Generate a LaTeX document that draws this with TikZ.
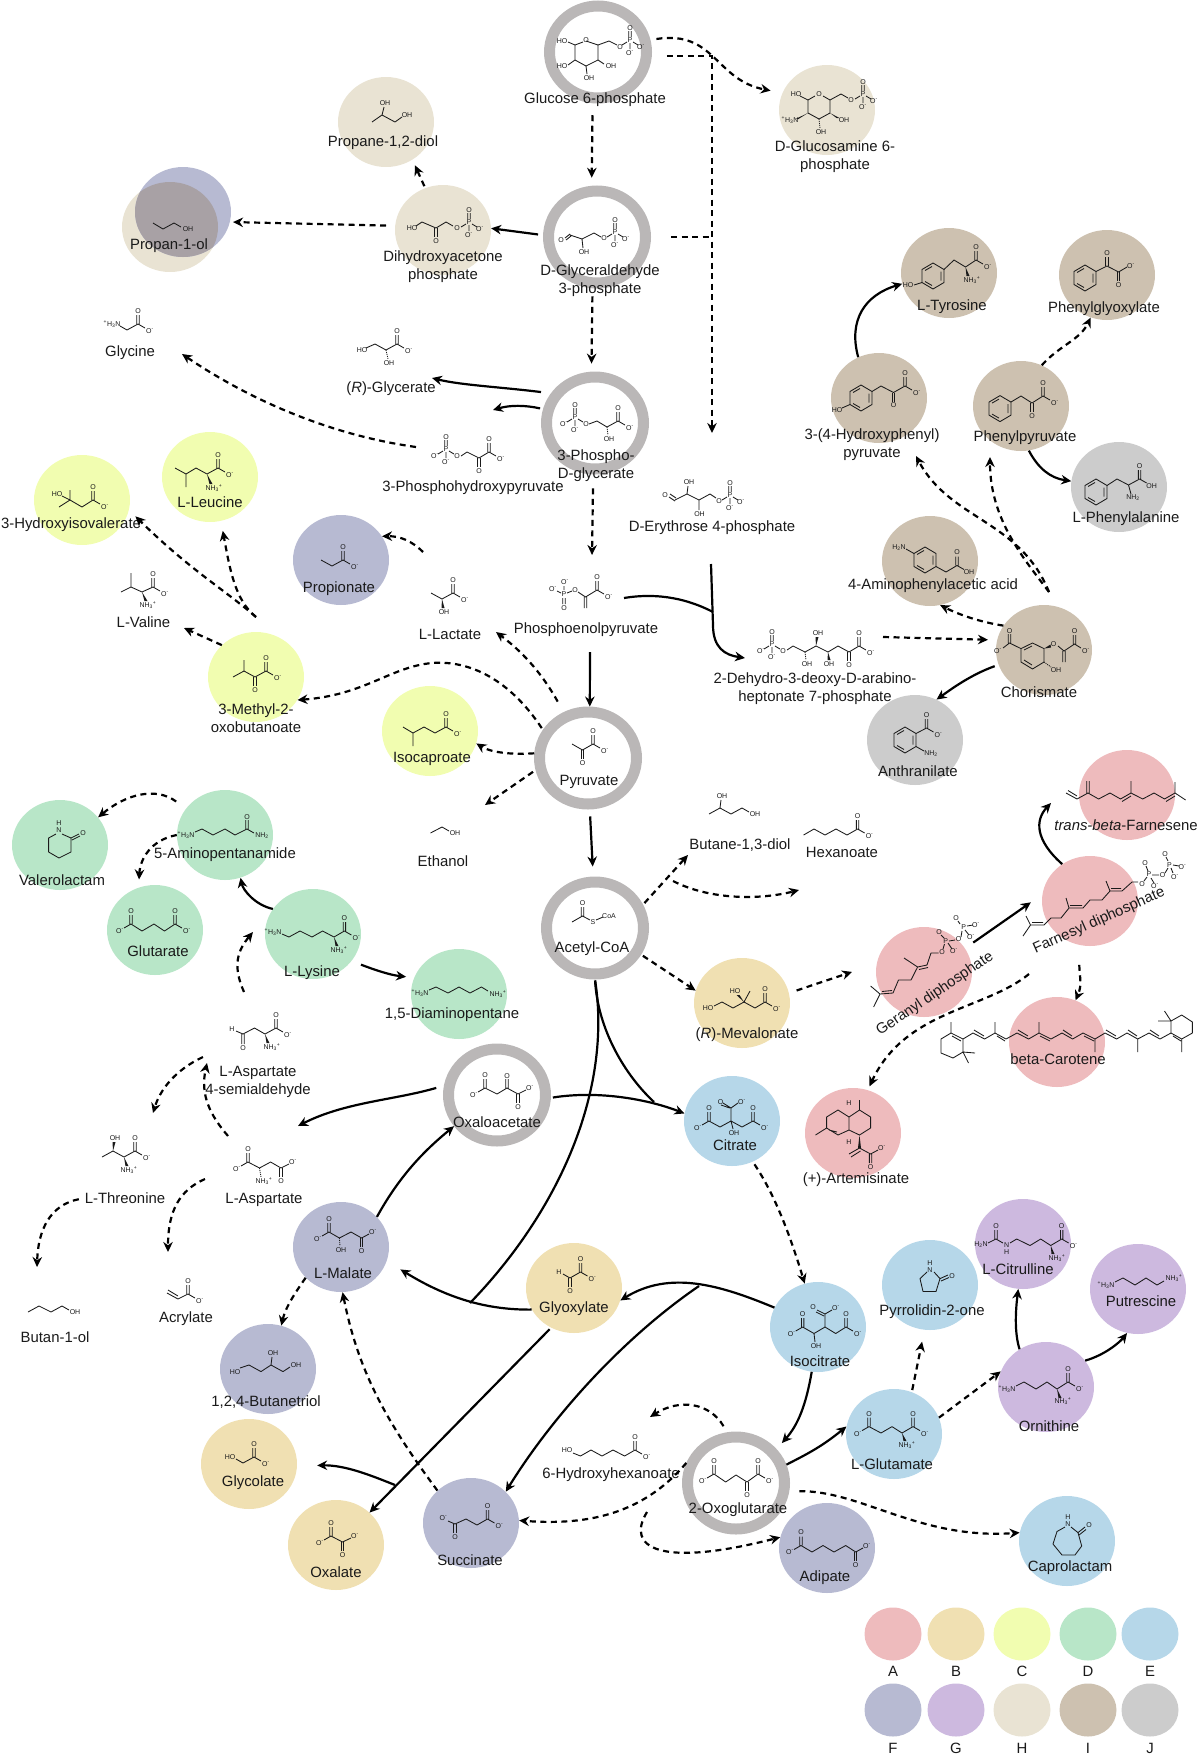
\documentclass[tikz,border=0pt]{standalone}
\usepackage{fontspec}
\setmainfont{Liberation Sans}
\usetikzlibrary{arrows.meta,calc,shapes.geometric}
\definecolor{ink}{RGB}{26,26,26}
\definecolor{ringgray}{RGB}{186,183,183}
\definecolor{groupA}{RGB}{238,187,189}
\definecolor{groupB}{RGB}{240,224,178}
\definecolor{groupC}{RGB}{241,253,176}
\definecolor{groupD}{RGB}{184,230,200}
\definecolor{groupE}{RGB}{182,215,233}
\definecolor{groupF}{RGB}{183,186,210}
\definecolor{groupG}{RGB}{205,185,223}
\definecolor{groupH}{RGB}{233,227,211}
\definecolor{groupI}{RGB}{205,193,176}
\definecolor{groupJ}{RGB}{204,204,204}
\definecolor{overlapFH}{RGB}{168,161,165}
\tikzset{
  metab/.style={ellipse,inner sep=0pt,minimum width=96pt,minimum height=90pt},
  keya/.style={ellipse,inner sep=0pt,minimum width=57pt,minimum height=53pt},
  hub/.style={ellipse,draw=ringgray,line width=11pt,inner sep=0pt,
    minimum width=97pt,minimum height=92pt},
  lbl/.style={font=\fontsize{14.9}{18}\selectfont,align=center,text=ink,inner sep=0pt,yshift=-1pt},
  atom/.style={font=\fontsize{7}{7}\selectfont,text=ink,inner sep=0pt},
  bond/.style={line width=0.85pt,ink,line join=round},
  flux/.style={line width=2.2pt,black,-{Stealth[length=10pt,width=9.5pt]}},
  fluxline/.style={line width=2.2pt,black},
  dashflux/.style={line width=2.2pt,black,dash pattern=on 6pt off 4.5pt,
    -{Stealth[length=10pt,width=9.5pt]}},
  dashline/.style={line width=2.2pt,black,dash pattern=on 6pt off 4.5pt}
}
\newcounter{atomno}
\newcommand{\atm}[3]{\stepcounter{atomno}\node[atom] (atom\theatomno) at (#1,#2) {#3};}
\newcommand{\omin}{O\textsuperscript{-}}
\newcommand{\nhp}{NH\textsubscript{3}\textsuperscript{+}}
\newcommand{\hnp}{\textsuperscript{+}H\textsubscript{3}N}
% carboxylate on a carbon, opening right or left
\newcommand{\coo}[3][\omin]{\draw[bond] (#2-1.2,#3)--(#2-1.2,#3-9) (#2+1.2,#3)--(#2+1.2,#3-9) (#2,#3)--(#2+7,#3+4);
  \atm{#2}{#3-13}{O}\atm{#2+12}{#3+7}{#1}}
\newcommand{\cool}[2]{\draw[bond] (#1-1.2,#2)--(#1-1.2,#2-9) (#1+1.2,#2)--(#1+1.2,#2-9) (#1,#2)--(#1-7,#2+4);
  \atm{#1}{#2-13}{O}\atm{#1-11}{#2+7}{\omin}}
\newcommand{\keto}[2]{\draw[bond] (#1-1.2,#2)--(#1-1.2,#2+9) (#1+1.2,#2)--(#1+1.2,#2+9);\atm{#1}{#2+13}{O}}
\newcommand{\pho}[4]{\draw[bond] (#1-1.2,#2-3)--(#1-1.2,#2-9) (#1+1.2,#2-3)--(#1+1.2,#2-9) (#1,#2+3)--(#1,#2+9)
  (#1-3,#2+2)--(#1-8,#2+5) (#1+3,#2+2)--(#1+8,#2+5);
  \atm{#1}{#2}{P}\atm{#1}{#2-12}{O}\atm{#1}{#2+13}{\omin}\atm{#1-11}{#2+7}{#3}\atm{#1+11}{#2+7}{#4}}
\newcommand{\benz}[2]{\draw[bond] (#1,#2-13)--(#1+11,#2-6.5)--(#1+11,#2+6.5)--(#1,#2+13)--(#1-11,#2+6.5)--(#1-11,#2-6.5)--cycle
  (#1+8,#2-4.5)--(#1+8,#2+4.5) (#1-1,#2+9.5)--(#1-8,#2+5.5) (#1-8,#2-5.5)--(#1-1,#2-9.5);}
\newcommand{\wdg}[4]{\fill[ink] (#1,#2)--(#3-1.5,#4)--(#3+1.5,#4)--cycle;}
\begin{document}
\begin{tikzpicture}[x=1pt,y=-1pt]
  \useasboundingbox (0,0) rectangle (1200,1757);
  % coloured groups
  \node[metab,fill=groupH] (prop12) at (386,122) {};
  \node[metab,fill=groupH] (glcn) at (827,110) {};
  \node[metab,fill=groupH] (dhap) at (443,230) {};
  \node[metab,fill=groupH] (ppolh) at (170,227) {};
  \node[metab,fill=groupF] (ppolf) at (183,212) {};
  \begin{scope}
    \clip (170,227) ellipse [x radius=48,y radius=45];
    \fill[overlapFH] (183,212) ellipse [x radius=48,y radius=45];
  \end{scope}
  \node[metab,fill=groupI] (tyr) at (949,273) {};
  \node[metab,fill=groupI] (pglx) at (1107,275) {};
  \node[metab,fill=groupI] (hpp) at (879,398) {};
  \node[metab,fill=groupI] (ppy) at (1021,406) {};
  \node[metab,fill=groupI] (apa) at (930,561) {};
  \node[metab,fill=groupI] (chor) at (1044,650) {};
  \node[metab,fill=groupJ] (phe) at (1119,487) {};
  \node[metab,fill=groupJ] (anth) at (915,740) {};
  \node[metab,fill=groupA] (farn) at (1127,795) {};
  \node[metab,fill=groupA] (fpp) at (1090,901) {};
  \node[metab,fill=groupA] (gpp) at (924,972) {};
  \node[metab,fill=groupA] (bcar) at (1057,1042) {};
  \node[metab,fill=groupA] (arte) at (853,1133) {};
  \node[metab,fill=groupB] (mev) at (742,1003) {};
  \node[metab,fill=groupB] (glx) at (574,1288) {};
  \node[metab,fill=groupB] (glyc) at (249,1464) {};
  \node[metab,fill=groupB] (oxal) at (336,1545) {};
  \node[metab,fill=groupC] (leu) at (210,477) {};
  \node[metab,fill=groupC] (hiv) at (82,500) {};
  \node[metab,fill=groupC] (mob) at (256,677) {};
  \node[metab,fill=groupC] (icap) at (430,731) {};
  \node[metab,fill=groupD] (vlac) at (60,845) {};
  \node[metab,fill=groupD] (apam) at (225,835) {};
  \node[metab,fill=groupD] (glut) at (155,930) {};
  \node[metab,fill=groupD] (lys) at (313,934) {};
  \node[metab,fill=groupD] (dap) at (459,994) {};
  \node[metab,fill=groupE] (cit) at (732,1121) {};
  \node[metab,fill=groupE] (icit) at (818,1327) {};
  \node[metab,fill=groupE] (pyrr) at (930,1285) {};
  \node[metab,fill=groupE] (glu) at (894,1434) {};
  \node[metab,fill=groupE] (capr) at (1067,1541) {};
  \node[metab,fill=groupF] (ppa) at (341,560) {};
  \node[metab,fill=groupF] (mal) at (341,1247) {};
  \node[metab,fill=groupF] (btol) at (268,1369) {};
  \node[metab,fill=groupF] (suc) at (471,1523) {};
  \node[metab,fill=groupF] (adip) at (827,1548) {};
  \node[metab,fill=groupG] (citr) at (1023,1244) {};
  \node[metab,fill=groupG] (putr) at (1138,1289) {};
  \node[metab,fill=groupG] (orn) at (1046,1387) {};
  % central hubs
  \node[hub] (g6p) at (598,52) {};
  \node[hub] (g3p) at (597,237) {};
  \node[hub] (pg3) at (595,423) {};
  \node[hub] (pyrv) at (588,758) {};
  \node[hub] (acoa) at (595,928) {};
  \node[hub] (oaa) at (497,1095) {};
  \node[hub] (ogl) at (736,1483) {};
  % legend
  \node[keya,fill=groupA] (keyA) at (893,1634) {};
  \node[keya,fill=groupB] (keyB) at (956,1634) {};
  \node[keya,fill=groupC] (keyC) at (1022,1634) {};
  \node[keya,fill=groupD] (keyD) at (1088,1634) {};
  \node[keya,fill=groupE] (keyE) at (1150,1634) {};
  \node[keya,fill=groupF] (keyF) at (893,1710) {};
  \node[keya,fill=groupG] (keyG) at (956,1710) {};
  \node[keya,fill=groupH] (keyH) at (1022,1710) {};
  \node[keya,fill=groupI] (keyI) at (1088,1710) {};
  \node[keya,fill=groupJ] (keyJ) at (1150,1710) {};
  \node[lbl] (txtA) at (893,1670) {A};
  \node[lbl] (txtB) at (956,1670) {B};
  \node[lbl] (txtC) at (1022,1670) {C};
  \node[lbl] (txtD) at (1088,1670) {D};
  \node[lbl] (txtE) at (1150,1670) {E};
  \node[lbl] (txtF) at (893,1747) {F};
  \node[lbl] (txtG) at (956,1747) {G};
  \node[lbl] (txtH) at (1022,1747) {H};
  \node[lbl] (txtI) at (1088,1747) {I};
  \node[lbl] (txtJ) at (1150,1747) {J};
  % structures, upper part
  \draw[bond] (586,41)--(598,45)--(598,60)--(586,66)--(575,60)--(575,45)--(583,42) (589,42)--(598,45)--(609,41)--(617,45)
    (575,45)--(568,42) (575,60)--(568,65) (598,60)--(604,64) (586,66)--(587,74);
  \atm{586}{40}{O}\atm{620}{47}{O}\pho{630}{40}{}{\omin}\atm{562}{41}{HO}\atm{562}{66}{HO}\atm{611}{66}{OH}\atm{589}{78}{OH}
  \draw[bond] (565,238)--(570,234) (566,240)--(571,236) (570,235)--(582,239)--(594,233)--(601,237) (582,239)--(583,248);
  \atm{561}{240}{O}\atm{604}{238}{O}\pho{615}{232}{}{\omin}\atm{584}{252}{OH}
  \draw[bond] (416,226)--(422,222)--(436,228)--(446,222)--(453,226);\keto{436}{228}
  \atm{412}{228}{HO}\atm{457}{228}{O}\pho{469}{222}{}{\omin}
  \draw[bond] (372,122)--(382,115)--(395,122)--(402,117) (382,115)--(384,107);\atm{385}{103}{OH}\atm{407}{115}{OH}
  \draw[bond] (808,100)--(815,96) (823,96)--(830,100)--(830,113)--(819,119)--(808,113)--(808,100)--(800,96)
    (830,100)--(841,94)--(848,98);
  \wdg{808}{113}{797}{119}\wdg{830}{113}{838}{118}
  \draw[bond,dash pattern=on 1pt off 1pt] (819,119)--(820,128);
  \atm{819}{94}{O}\atm{796}{94}{HO}\atm{790}{120}{\hnp}\atm{844}{120}{OH}\atm{821}{132}{OH}\atm{851}{100}{O}\pho{863}{94}{}{\omin}
  \draw[bond] (366,348)--(375,344)--(386,350)--(397,344);\coo{397}{344}\atm{362}{350}{HO}\atm{389}{363}{OH}
  \draw[bond,dash pattern=on 1pt off 1pt] (386,350)--(388,359);
  \pho{575}{417}{\omin}{O}\draw[bond] (589,424)--(597,421)--(607,427)--(618,421);\coo{618}{421}\atm{609}{439}{OH}
  \draw[bond,dash pattern=on 1pt off 1pt] (607,427)--(608,435);
  \pho{446}{449}{\omin}{O}\draw[bond] (461,456)--(467,452)--(479,458)--(489,452);\keto{479}{458}\coo{489}{452}
  \draw[bond] (120,326)--(127,330)--(138,324);\coo{138}{324}\atm{112}{324}{\hnp}
  \draw[bond] (175,468)--(186,474)--(196,468)--(207,474)--(218,468) (186,474)--(186,487);\coo{218}{468}\wdg{207}{474}{211}{484}\atm{214}{488}{\nhp}
  \draw[bond] (62,496)--(70,500)--(59,507) (70,500)--(70,490) (70,500)--(82,507)--(93,500);\coo{93}{500}\atm{57}{494}{HO}
  \draw[bond] (121,592)--(131,587)--(142,592)--(153,587) (131,587)--(131,573);\coo{153}{587}\wdg{142}{592}{146}{601}\atm{148}{605}{\nhp}
  \draw[bond] (321,560)--(332,566)--(343,560);\coo{343}{560}
  \draw[bond] (431,593)--(442,599)--(453,593);\coo{453}{593}\wdg{442}{599}{443}{608}\atm{444}{612}{OH}
  \draw[bond] (233,677)--(244,671)--(255,677)--(266,671) (244,671)--(244,660);\keto{255}{677}\coo{266}{671}
  \draw[bond] (403,727)--(413,733)--(424,727)--(435,733)--(446,727) (413,733)--(413,746);\coo{446}{727}
  \draw[bond] (153,223)--(163,229)--(174,223)--(181,227);\atm{188}{229}{OH}
  \draw[bond] (564,590)--(564,586) (562.8,598)--(562.8,604) (565.2,598)--(565.2,604) (561,593)--(557,591) (567,593)--(572,591)
    (578,592)--(585.5,597)--(597,590) (584.3,597)--(584.3,608) (586.7,597)--(586.7,608);
  \coo{597}{590}\atm{564}{594}{P}\atm{565}{582}{\omin}\atm{553}{589}{\omin}\atm{564}{608}{O}\atm{575}{590}{O}
  \draw[bond] (572,744)--(582.5,750)--(593,744);\keto{582.5}{750}\coo{593}{744}
  % structures, right part
  \draw[bond] (669,497)--(675,501) (670,494)--(676,498) (675,500)--(687,494)--(699,500)--(710,494)--(716,498)
    (687,494)--(688,486) (699,500)--(699,510);
  \atm{665}{495}{O}\atm{689}{482}{OH}\atm{699.5}{514}{OH}\atm{719}{501}{O}\pho{730}{495}{}{\omin}
  \pho{772}{644}{\omin}{O}\draw[bond] (787,650)--(793,646)--(805,652)--(816,646)--(828,652)--(838,646)--(849,652)--(859,646);
  \keto{849}{652}\coo{859}{646}\atm{807}{664}{OH}\atm{829}{664}{OH}\atm{818}{633}{OH}
  \wdg{816}{646}{817}{637}\wdg{828}{652}{829}{660}
  \draw[bond,dash pattern=on 1pt off 1pt] (805,652)--(806,660);
  \benz{861}{398}\draw[bond] (872,391.5)--(881,386)--(893.5,392.5)--(905,386) (850,404.5)--(842,408);\keto{893.5}{392.5}\coo{905}{386}\atm{837}{410}{HO}
  \benz{933}{276}\draw[bond] (944,269.5)--(954,260)--(965.5,267)--(976,260) (922,282.5)--(914,285);\coo{976}{260}\atm{908}{285}{HO}
  \wdg{965.5}{267}{968}{276}\atm{972}{280}{\nhp}
  \benz{1085}{278}\draw[bond] (1096,271.5)--(1107,266)--(1118.6,272)--(1127,267);\atm{1107}{253}{O}\atm{1131}{266}{\omin}\keto{1118.6}{272}
  \draw[bond] (1105.8,266)--(1105.8,257) (1108.2,266)--(1108.2,257);
  \benz{1000}{408.6}\draw[bond] (1011,402)--(1021,396)--(1032,403)--(1043,396);\keto{1032}{403}\coo{1043}{396}
  \benz{1096}{492}\draw[bond] (1107,485.5)--(1117,479)--(1128.5,485)--(1139.6,479) (1128.5,485)--(1131,494);\coo[OH]{1139.6}{479}\atm{1133}{498}{NH\textsubscript{2}}
  \benz{925}{560}\draw[bond] (936,566.5)--(946,572)--(957,565.5) (914,553.5)--(906,549);\coo[OH]{957}{565.5}\atm{899}{548}{H\textsubscript{2}N}
  \draw[bond] (1021,648.6)--(1032.5,643)--(1044,648.6)--(1044,662)--(1032.5,669)--(1021,662)--cycle (1024,660)--(1032,665) (1024,650)--(1032,646)
    (1021,648.6)--(1009.5,643)--(1003,648) (1058,646)--(1064,651)--(1074.5,644)--(1081,648)
    (1062.8,651)--(1062.8,662) (1065.2,651)--(1065.2,662) (1008.3,643)--(1008.3,634) (1010.7,643)--(1010.7,634)
    (1073.3,644)--(1073.3,635) (1075.7,644)--(1075.7,635);
  \fill[ink] (1044,648.6)--(1050.5,644.5)--(1051,647.5)--cycle;
  \draw[bond,dash pattern=on 1pt off 1pt] (1044,662)--(1051,667);
  \atm{1009.5}{631}{O}\atm{998}{651}{\omin}\atm{1053.5}{644}{O}\atm{1074.5}{631}{O}\atm{1086}{651}{\omin}\atm{1056}{670}{OH}
  \benz{905}{740}\draw[bond] (916,733.5)--(926.5,728) (916,746.5)--(924,751);\coo{926.5}{728}\atm{931}{754}{NH\textsubscript{2}}
  \draw[bond] (709,814)--(720,808)--(731,814)--(742,808)--(749,812) (720,808)--(721,800);\atm{722}{796}{OH}\atm{755}{814}{OH}
  \draw[bond] (803.6,835)--(814,829)--(825,835)--(836,829)--(847,835)--(857.6,829);\coo{857.6}{829}
  % isoprenoids
  \draw[bond] (1066,793)--(1077,799)--(1088,793)--(1098.6,799)--(1110,793)--(1120.5,799)--(1131,793)--(1142.7,799)--(1154,793)--(1164.5,799)--(1175,793)--(1185.6,800)
    (1068,790.5)--(1077,796) (1086.8,793)--(1086.8,781) (1089.2,793)--(1089.2,781) (1131,793)--(1131,781) (1175,793)--(1175,782)
    (1122,801.5)--(1131,796) (1166,801.5)--(1175,796);
  \draw[bond] (870.6,986)--(880,994)--(873.6,1007) (880,994)--(893,993)--(898.5,980)--(911,980)--(917.6,967)--(904,958) (917.6,967)--(927,965)--(931,953)--(938.7,953)
    (882,991.5)--(892,990.5) (919,969.5)--(928,967.5);
  \atm{942}{952}{O}\atm{945.6}{941}{P}\atm{939}{932}{O}\atm{954}{951}{\omin}\atm{958.6}{939}{O}\atm{963.6}{927}{P}\atm{956}{918}{O}\atm{976}{925}{\omin}\atm{971}{937}{\omin}
  \draw[bond] (943,949)--(944.5,944) (944,938)--(941,935) (948,943)--(952,949) (949,941)--(955,940) (961,937)--(962,931) (960,924)--(958,921) (967,926)--(973,925) (965,930)--(969,935);
  \draw[bond] (1023,936)--(1030.5,925)--(1026,916) (1030.5,925)--(1044,925)--(1051,918)--(1061,918)--(1069,908)--(1066,898) (1069,908)--(1083,908)--(1090,900)--(1102,900)--(1110,891)--(1106,881)
    (1110,891)--(1122,891)--(1132,882)--(1138,882) (1032,922.5)--(1043,922.5) (1070,905.5)--(1082,905.5) (1111,888.5)--(1121,888.5);
  \atm{1142}{884}{O}\atm{1149}{874}{P}\atm{1145}{863}{O}\atm{1155}{886}{\omin}\atm{1162.6}{875}{O}\atm{1169.5}{865}{P}\atm{1165}{854}{O}\atm{1182.5}{867}{\omin}\atm{1175}{877}{\omin}
  \draw[bond] (1144,881)--(1147,877) (1148,871)--(1146,866) (1151,878)--(1154,883) (1152,875)--(1159,875) (1165,873)--(1168,868) (1168,861)--(1166,857) (1173,865)--(1179,866) (1171,868)--(1173,873);
  \draw[bond] (951,1033)--(963,1039)--(963,1052)--(953,1058)--(941,1053)--(941,1039)--cycle (951,1033)--(951,1022) (963,1052)--(975,1053) (963,1052)--(968.5,1063)
    (963,1039)--(973,1033)--(984.6,1039)--(995,1033)--(1006,1039)--(1017,1033)--(1028.6,1039)--(1039,1033)--(1051,1039)--(1062,1033)--(1072.6,1039)--(1083,1033)--(1095,1039)--(1105,1033)--(1116.6,1039)--(1127,1033)--(1137.7,1039)--(1149,1033)--(1160,1039)--(1171,1033)
    (995,1033)--(995,1022) (1039,1033)--(1039,1022) (1095,1039)--(1095,1052) (1137.7,1039)--(1137.7,1052)
    (1171,1033)--(1181.7,1039)--(1192.4,1033)--(1192.4,1022)--(1181.7,1015)--(1171,1021)--cycle (1181.7,1039)--(1181.7,1052) (1171,1021)--(1158,1021) (1171,1021)--(1164.5,1011)
    (974,1030)--(984,1036) (997,1036)--(1005,1041) (1018,1030)--(1028,1036) (1040,1036)--(1050,1041) (1063,1030)--(1072,1036) (1084,1036)--(1094,1041) (1106,1030)--(1116,1036) (1128,1030)--(1137,1036) (1150,1030)--(1159,1036) (952,1036)--(961,1041) (1173,1036)--(1181,1041);
  \draw[bond] (826.6,1117)--(838,1110)--(849,1117)--(849,1130)--(838,1135)--(826.6,1128)--cycle (826.6,1128)--(815.5,1135) (829,1130)--(837,1132)
    (849,1117)--(859.5,1110)--(870.6,1117)--(870.6,1128)--(859.5,1135)--(849,1130) (859.5,1110)--(859.5,1100)
    (859.5,1148)--(870.6,1154)--(878,1150) (859.5,1148)--(849,1154) (860.5,1151)--(851,1157) (869.4,1154)--(869.4,1163) (871.8,1154)--(871.8,1163);
  \wdg{859.5}{1135}{859.5}{1148}\atm{849}{1103}{H}\atm{849}{1142}{H}\atm{882}{1148}{\omin}\atm{870.6}{1167}{O}
  \draw[bond] (714,1006)--(722,1002)--(733,1008)--(744,1002)--(755,1008)--(765,1002) (744,1002)--(750,991);\coo{765}{1002}\wdg{744}{1002}{738}{995}\atm{735}{991}{HO}\atm{708}{1008}{HO}
  \draw[bond] (731,1121)--(731,1108)--(723,1103) (729.8,1108)--(721,1105) (731,1108)--(738,1103) (731,1121)--(720,1127)--(709,1121) (731,1121)--(742,1127)--(753,1121) (731,1121)--(733,1129);
  \cool{709}{1121}\coo{753}{1121}\atm{720.5}{1102}{O}\atm{742}{1102}{\omin}\atm{734}{1133}{OH}
  % structures, lower part
  \draw[bond] (572,922)--(582.5,916)--(590,920) (581.3,916)--(581.3,907) (583.7,916)--(583.7,907) (596,920)--(603,917);\atm{582.5}{903}{O}\atm{593}{922}{S}\atm{609}{916}{CoA}
  \draw[bond] (195,832)--(202,829)--(213,835)--(225,829)--(235,835)--(247,829)--(254,833) (245.8,829)--(245.8,820) (248.2,829)--(248.2,820);\atm{186}{835}{\hnp}\atm{247}{817}{O}\atm{262}{836}{NH\textsubscript{2}}
  \draw[bond] (62,834)--(71,838)--(71,852)--(59,858)--(48.6,852)--(48.6,838)--(56,834) (71,838)--(79,834) (72,840)--(80,836);\atm{59}{830}{N}\atm{59}{823}{H}\atm{83}{833}{O}
  \draw[bond] (131,924)--(142,931)--(154,924)--(164.5,931)--(175,924);\cool{131}{924}\coo{175}{924}
  \draw[bond] (282,934)--(289,937)--(300,931)--(312,937)--(322.6,931)--(334,937)--(344.4,931);\coo{344.4}{931}\atm{273}{932}{\hnp}\wdg{334}{937}{337}{946}\atm{339}{950}{\nhp}
  \draw[bond] (429,990)--(436,987)--(448,993)--(459,987)--(470,993)--(481.4,987)--(488,991);\atm{420}{993}{\hnp}\atm{498}{994}{\nhp}
  \draw[bond] (430.5,833)--(442,827)--(449,831);\atm{455}{833}{OH}
  \draw[bond] (236,1031)--(243,1034)--(254.5,1028)--(265,1034)--(276,1028) (241.8,1034)--(241.8,1044) (244.2,1034)--(244.2,1044);\coo{276}{1028}\atm{232}{1029}{H}\atm{243}{1048}{O}\wdg{265}{1034}{268}{1043}\atm{272}{1047}{\nhp}
  \draw[bond] (485,1088)--(497,1094)--(507,1088)--(518,1094) (505.8,1088)--(505.8,1079) (508.2,1088)--(508.2,1079);\cool{485}{1088}\atm{507}{1076}{O}
  \keto{518}{1094}\draw[bond] (518,1094)--(526,1090);\atm{530}{1088}{\omin}
  \draw[bond] (102,1157)--(113,1151)--(124,1157)--(135,1151);\coo{135}{1151}\wdg{113}{1151}{114}{1142}\atm{115}{1138}{OH}\wdg{124}{1157}{127}{1166}\atm{129}{1170}{\nhp}
  \draw[bond] (248,1162)--(259.5,1168)--(270.6,1162)--(281,1168)--(289,1164);\cool{248}{1162}\keto{281}{1168}\atm{293}{1162}{\omin}\atm{264}{1181}{\nhp}
  \draw[bond,dash pattern=on 1pt off 1pt] (259.5,1168)--(261,1177);
  \draw[bond] (329,1232)--(339.4,1238)--(351,1232)--(361.6,1238)--(369,1234);\cool{329}{1232}\keto{361.6}{1238}\atm{373}{1232}{\omin}\atm{341}{1250}{OH}
  \draw[bond,dash pattern=on 1pt off 1pt] (339.4,1238)--(340,1246);
  \draw[bond] (167,1293)--(178,1299)--(188,1294) (168,1290)--(178,1296);\coo{188}{1294}
  \draw[bond] (28,1312)--(39,1306)--(51,1312)--(62,1306)--(69,1310);\atm{75}{1312}{OH}
  \draw[bond] (240,1368)--(249,1365)--(261,1371.6)--(271,1365)--(283,1371.6)--(290,1367) (271,1365)--(272,1357);\atm{235}{1371.6}{HO}\atm{273}{1353}{OH}\atm{296}{1365}{OH}
  \draw[bond] (236,1459)--(243,1463)--(254,1457);\coo{254}{1457}\atm{230}{1457}{HO}
  \draw[bond] (331,1536)--(342.5,1542)--(351,1538);\cool{331}{1536}\keto{342.5}{1542}\atm{355}{1536}{\omin}
  \draw[bond] (563,1274)--(570,1278)--(580.5,1272);\keto{570}{1278}\coo{580.5}{1272}\atm{559}{1272}{H}
  \draw[bond] (448,1521)--(455,1524)--(466,1519)--(477,1525)--(487.5,1519);\keto{455}{1524}\coo{487.5}{1519}\atm{443.5}{1518}{\omin}
  \draw[bond] (573,1453)--(580.5,1456)--(591,1450)--(602,1456)--(613,1450)--(624.6,1456)--(635,1450);\coo{635}{1450}\atm{567}{1450}{HO}
  \draw[bond] (714,1474)--(725.7,1482)--(736,1475)--(747,1482)--(758,1474);\cool{714}{1474}\keto{747}{1482}\coo{758}{1474}
  \draw[bond] (801,1545.5)--(812,1552)--(823,1545.5)--(834,1552)--(845.7,1545.5)--(855.7,1552)--(863,1548);\cool{801}{1545.5}\keto{855.7}{1552}\atm{867}{1546}{\omin}
  \draw[bond] (1071,1527)--(1078,1532.6)--(1081.7,1546)--(1075,1555)--(1062,1555)--(1053,1544)--(1057,1531.5)--(1065,1527) (1078,1532.6)--(1085,1527) (1079,1535)--(1086,1529.5);\atm{1068}{1524}{N}\atm{1068}{1517}{H}\atm{1089}{1525}{O}
  \draw[bond] (802.7,1327)--(814,1333.5)--(825,1327)--(835.7,1333.5)--(846,1327) (814,1333.5)--(815,1342) (825,1327)--(825,1314)--(817,1310) (824,1316)--(816,1312) (825,1314)--(832,1310);
  \cool{802.7}{1327}\coo{846}{1327}\atm{813}{1307}{O}\atm{836}{1308}{\omin}\atm{816}{1346}{OH}
  \draw[bond] (934,1272)--(940,1278.6)--(936,1291.5)--(923,1291.5)--(920,1278.6)--(927,1272) (940,1278.6)--(948,1275) (941,1281)--(949,1277.5);\atm{930}{1270}{N}\atm{930}{1263}{H}\atm{952}{1276}{O}
  \draw[bond] (988,1243)--(996,1239)--(1003,1243) (994.8,1239)--(994.8,1230) (997.2,1239)--(997.2,1230) (1010,1243)--(1016.7,1239)--(1030,1245.5)--(1040.7,1239)--(1050.7,1245.5)--(1061.7,1239);
  \coo{1061.7}{1239}\atm{981}{1245}{H\textsubscript{2}N}\atm{996}{1226}{O}\atm{1006.7}{1245.5}{N}\atm{1006.7}{1252}{H}\wdg{1050.7}{1245.5}{1053}{1254}\atm{1057}{1258}{\nhp}
  \draw[bond] (1115,1282)--(1123,1278)--(1135,1285)--(1146,1278)--(1157,1285)--(1164,1281);\atm{1106}{1285}{\hnp}\atm{1174}{1278}{\nhp}
  \draw[bond] (1016,1386)--(1024,1382)--(1036,1389)--(1047,1382)--(1057,1389)--(1068,1382);\coo{1068}{1382}\atm{1007}{1389}{\hnp}\wdg{1057}{1389}{1060}{1398}\atm{1063}{1401.5}{\nhp}
  \draw[bond] (869,1426.6)--(881,1433)--(892,1426.6)--(902,1433)--(913,1426.6);\cool{869}{1426.6}\coo{913}{1426.6}\wdg{902}{1433}{905}{1441}\atm{907}{1445}{\nhp}
  % compound names
  \node[lbl] (g6plbl) at (595,99) {Glucose 6-phosphate};
  \node[lbl] (prop12lbl) at (383,142) {Propane-1,2-diol};
  \node[lbl] (glcnlbl) at (835,156) {D-Glucosamine 6-\\phosphate};
  \node[lbl] (dhaplbl) at (443,266) {Dihydroxyacetone\\phosphate};
  \node[lbl] (g3plbl) at (600,280) {D-Glyceraldehyde\\3-phosphate};
  \node[lbl] (ppollbl) at (169,245) {Propan-1-ol};
  \node[lbl] (rglylbl) at (391,388) {(\textit{R})-Glycerate};
  \node[lbl] (phplbl) at (473,487) {3-Phosphohydroxypyruvate};
  \node[lbl] (pg3lbl) at (596,465) {3-Phospho-\\D-glycerate};
  \node[lbl] (glylbl) at (130,352) {Glycine};
  \node[lbl] (leulbl) at (210,501) {L-Leucine};
  \node[lbl] (hivlbl) at (71,524) {3-Hydroxyisovalerate};
  \node[lbl] (ppalbl) at (339,588) {Propionate};
  \node[lbl] (vallbl) at (143.5,621) {L-Valine};
  \node[lbl] (laclbl) at (450,633) {L-Lactate};
  \node[lbl] (moblbl) at (256,717) {3-Methyl-2-\\oxobutanoate};
  \node[lbl] (icaplbl) at (432,758) {Isocaproate};
  \node[lbl] (e4plbl) at (712,527) {D-Erythrose 4-phosphate};
  \node[lbl] (peplbl) at (586,629) {Phosphoenolpyruvate};
  \node[lbl] (pyrvlbl) at (589,781) {Pyruvate};
  \node[lbl] (tyrlbl) at (952,306) {L-Tyrosine};
  \node[lbl] (pglxlbl) at (1104,308) {Phenylglyoxylate};
  \node[lbl] (hpplbl) at (872,444) {3-(4-Hydroxyphenyl)\\pyruvate};
  \node[lbl] (ppylbl) at (1025,437) {Phenylpyruvate};
  \node[lbl] (phelbl) at (1126,518) {L-Phenylalanine};
  \node[lbl] (apalbl) at (933,585) {4-Aminophenylacetic acid};
  \node[lbl] (chorlbl) at (1039,691) {Chorismate};
  \node[lbl] (dahplbl) at (815,688) {2-Dehydro-3-deoxy-D-arabino-\\heptonate 7-phosphate};
  \node[lbl] (anthlbl) at (918,770) {Anthranilate};
  \node[lbl] (btdlbl) at (740,844) {Butane-1,3-diol};
  \node[lbl] (hexlbl) at (842,851) {Hexanoate};
  \node[lbl] (farnlbl) at (1126,824) {\textit{trans-beta}-Farnesene};
  \node[lbl,rotate=24] (fpplbl) at (1099,920) {Farnesyl diphosphate};
  \node[lbl,rotate=34] (gpplbl) at (935,993) {Geranyl diphosphate};
  \node[lbl] (bcarlbl) at (1058,1058) {beta-Carotene};
  \node[lbl] (mevlbl) at (747,1034) {(\textit{R})-Mevalonate};
  \node[lbl] (acoalbl) at (592,948) {Acetyl-CoA};
  \node[lbl] (citlbl) at (735,1144) {Citrate};
  \node[lbl] (artelbl) at (856,1179) {(+)-Artemisinate};
  \node[lbl] (apamlbl) at (225,854) {5-Aminopentanamide};
  \node[lbl] (vlaclbl) at (62,879) {Valerolactam};
  \node[lbl] (etohlbl) at (443,860) {Ethanol};
  \node[lbl] (glutlbl) at (158,950) {Glutarate};
  \node[lbl] (lyslbl) at (312,972) {L-Lysine};
  \node[lbl] (daplbl) at (452,1014) {1,5-Diaminopentane};
  \node[lbl] (asalbl) at (258,1081) {L-Aspartate\\4-semialdehyde};
  \node[lbl] (oaalbl) at (497,1121) {Oxaloacetate};
  \node[lbl] (thrlbl) at (125,1197) {L-Threonine};
  \node[lbl] (asplbl) at (264,1199) {L-Aspartate};
  \node[lbl] (mallbl) at (343,1272) {L-Malate};
  \node[lbl] (acrylbl) at (186,1318) {Acrylate};
  \node[lbl] (btollbl) at (55,1336) {Butan-1-ol};
  \node[lbl] (glxlbl) at (574,1308) {Glyoxylate};
  \node[lbl] (btrilbl) at (266,1401) {1,2,4-Butanetriol};
  \node[lbl] (glyclbl) at (253,1482) {Glycolate};
  \node[lbl] (oxallbl) at (336,1571) {Oxalate};
  \node[lbl] (suclbl) at (470,1559) {Succinate};
  \node[lbl] (hhxlbl) at (611,1474) {6-Hydroxyhexanoate};
  \node[lbl] (ogllbl) at (738,1509) {2-Oxoglutarate};
  \node[lbl] (adiplbl) at (825,1577) {Adipate};
  \node[lbl] (caprlbl) at (1070,1567) {Caprolactam};
  \node[lbl] (icitlbl) at (820,1360) {Isocitrate};
  \node[lbl] (pyrrlbl) at (932,1311) {Pyrrolidin-2-one};
  \node[lbl] (citrlbl) at (1018,1268) {L-Citrulline};
  \node[lbl] (putrlbl) at (1141,1300) {Putrescine};
  \node[lbl] (ornlbl) at (1049,1425) {Ornithine};
  \node[lbl] (glulbl) at (892,1463) {L-Glutamate};
  % free ends of connectors
  \coordinate (e4pin) at (712,433);
  \coordinate (fork) at (712,237);
  \coordinate (rglyin) at (432,378);
  \coordinate (phpin) at (493,410);
  \coordinate (phpout) at (416,447);
  \coordinate (pepin) at (592,555);
  \coordinate (pepout) at (590,652);
  \coordinate (etohin) at (485,805);
  \coordinate (lacin) at (496,632);
  \coordinate (lacout) at (423,552);
  \coordinate (valin) at (184,628);
  \coordinate (glyin) at (182,354);
  \coordinate (asaout) at (203,1057);
  \coordinate (asain) at (207,1063);
  \coordinate (asaup) at (244,992);
  \coordinate (lysin) at (253,932);
  \coordinate (thrin) at (153,1113);
  \coordinate (aspin) at (298,1126);
  \coordinate (aspup) at (228,1136);
  \coordinate (aspdown) at (205,1179);
  \coordinate (acryin) at (168,1252);
  \coordinate (btolin) at (37,1267);
  \coordinate (citjoin) at (654,1102);
  \coordinate (maljoin) at (470,1303);
  \coordinate (icitfork) at (699,1286);
  \coordinate (oxfork) at (395,1485);
  \coordinate (oglfork) at (647,1512);
  \coordinate (hhxin) at (650,1417);
  \coordinate (acoafork) at (673,881);
  \coordinate (btdin) at (688,855);
  \coordinate (hexin) at (799,890);
  \coordinate (farnin) at (1051,803);
  \coordinate (fppout) at (1029,974);
  \coordinate (hppin) at (916,456);
  \coordinate (ppyin) at (990,457);
  \coordinate (chorfork) at (1049,592);
  \coordinate (dahpout) at (883,637);
  \coordinate (dahpin) at (745,658);
  \coordinate (e4pout) at (711,564);
  \coordinate (pepjoin) at (713,612);
  \coordinate (pepright) at (624,598);
  \coordinate (mobfork) at (256,617);
  % upper half
  \draw[dashflux,shorten <=12pt,shorten >=8pt] (g6p.-96) -- (g3p.96);
  \draw[dashflux,shorten <=6pt,shorten >=12pt] (g6p.13) .. controls (715,30) and (715,80) .. (glcn.159);
  \draw[dashflux,shorten <=15pt] (g6p.-4) -| (e4pin);
  \draw[dashline,shorten <=20pt] (g3p.0) -- (fork);
  \draw[flux,shorten <=5pt] (g3p.178) -- (dhap.2);
  \draw[dashflux,shorten <=2pt,shorten >=6pt] (dhap.113) -- (prop12.-55);
  \draw[dashflux,shorten <=9pt,shorten >=3pt] (dhap.175) -- (ppolf.-12);
  \draw[flux,shorten <=10pt] (pg3.146) .. controls (500,387) and (460,385) .. (rglyin);
  \draw[flux,shorten <=3pt] (pg3.165) .. controls (525,405) and (510,405) .. (phpin);
  \draw[dashflux,shorten <=8pt,shorten >=8pt] (g3p.-95) -- (pg3.94);
  \draw[dashflux,shorten <=14pt] (pg3.-92) -- (pepin);
  \draw[dashflux] (phpout) .. controls (330,435) and (250,400) .. (glyin);
  \draw[flux] (pepout) -- (pyrv.88);
  \draw[flux,shorten <=7pt,shorten >=10pt] (pyrv.-88) -- (acoa.92);
  \draw[dashflux,shorten <=12pt] (pyrv.118) .. controls (540,670) and (520,650) .. (lacin);
  \draw[dashflux,shorten <=2pt] (pyrv.148) .. controls (510,680) and (470,660) .. (432,663)
    .. controls (390,667) and (365,695) .. (mob.-29);
  \draw[dashflux] (pyrv.175) .. controls (510,755) and (490,752) .. (icap.-15);
  \draw[dashflux,shorten <=3pt] (pyrv.193) -- (etohin);
  \draw[dashflux] (lacout) .. controls (412,541) and (400,536) .. (ppa.30);
  \draw[dashflux] (mob.137) -- (valin);
  \draw[dashflux,shorten >=9pt] (mobfork) .. controls (225,590) and (190,570) .. (hiv.-12);
  \draw[dashflux,shorten >=10pt] (mobfork) .. controls (235,600) and (230,570) .. (leu.-76);
  % lysine group
  \draw[dashflux,shorten <=12pt] (apam.146) .. controls (155,786) and (125,795) .. (vlac.36);
  \draw[dashflux,shorten >=8pt] (apam.180) .. controls (150,840) and (140,860) .. (glut.111);
  \draw[flux] (lys.148) .. controls (255,905) and (243,890) .. (apam.-70);
  \draw[flux,shorten <=10pt,shorten >=8pt] (lys.-35) .. controls (375,970) and (390,975) .. (dap.160);
  \draw[dashflux] (asaup) .. controls (232,965) and (238,950) .. (lysin);
  \draw[dashflux] (asaout) .. controls (175,1070) and (160,1090) .. (thrin);
  \draw[dashflux] (aspup) .. controls (210,1115) and (200,1095) .. (asain);
  \draw[dashflux] (aspdown) .. controls (180,1190) and (168,1210) .. (acryin);
  \draw[dashflux,shorten <=6pt] (thrlbl.west) .. controls (50,1205) and (38,1230) .. (btolin);
  \draw[flux,shorten <=8pt] (oaa.170) .. controls (395,1100) and (345,1102) .. (aspin);
  \draw[flux] (mal.40) .. controls (400,1175) and (425,1150) .. (oaa.216);
  % cycle
  \draw[flux,shorten <=2pt] (oaa.-3) .. controls (600,1090) and (650,1100) .. (cit.171);
  \draw[fluxline,shorten <=1pt] (acoa.-90) .. controls (598,1030) and (625,1075) .. (citjoin);
  \draw[fluxline,shorten <=1pt] (acoa.-90) .. controls (612,1090) and (560,1210) .. (maljoin);
  \draw[flux,shorten >=16pt] (glx.207) .. controls (490,1310) and (450,1300) .. (mal.-17);
  \draw[flux] (icit.156) .. controls (720,1285) and (670,1270) .. (glx.-15);
  \draw[flux] (icitfork) .. controls (620,1340) and (550,1420) .. (suc.42);
  \draw[flux,shorten <=2pt] (glx.240) -- (oxal.44);
  \draw[flux,shorten >=20pt] (oxfork) .. controls (370,1475) and (345,1465) .. (glyc.-2);
  \draw[dashflux] (suc.136) .. controls (385,1420) and (358,1370) .. (mal.-88);
  \draw[dashflux] (mal.221) .. controls (290,1300) and (285,1310) .. (btol.73);
  \draw[dashflux] (ogl.158) .. controls (640,1518) and (580,1525) .. (suc.3);
  \draw[dashflux] (oglfork) .. controls (625,1548) and (660,1568) .. (adip.167);
  \draw[dashflux,shorten <=7pt] (ogl.100) .. controls (710,1403) and (680,1398) .. (hhxin);
  \draw[dashflux,shorten <=3pt] (cit.-63) .. controls (775,1195) and (790,1235) .. (icit.107);
  \draw[flux,shorten >=8pt] (icit.262) .. controls (806,1405) and (798,1425) .. (ogl.40);
  \draw[flux] (ogl.20) .. controls (805,1455) and (820,1448) .. (glu.171);
  \draw[dashflux,shorten <=10pt] (ogl.-9) .. controls (860,1490) and (920,1540) .. (capr.170);
  \draw[dashflux,shorten <=2pt,shorten >=12pt] (glu.67) -- (pyrr.263);
  \draw[dashflux] (glu.20) -- (orn.161);
  \draw[flux] (orn.125) .. controls (1015,1335) and (1015,1315) .. (citr.264);
  \draw[flux] (orn.34) .. controls (1105,1355) and (1120,1342) .. (putr.256);
  % isoprenoids and acetyl branch
  \draw[dashflux,shorten <=2pt] (acoa.26) -- (btdin);
  \draw[dashflux] (acoafork) .. controls (710,900) and (760,900) .. (hexin);
  \draw[dashflux,shorten <=2pt] (acoa.-30) -- (mev.165);
  \draw[dashflux,shorten <=8pt,shorten >=26pt] (mev.12) -- (gpp.170);
  \draw[flux,shorten <=10pt,shorten >=14pt] (gpp.30) -- (fpp.172);
  \draw[flux] (fpp.127) .. controls (1035,840) and (1035,820) .. (farnin);
  \draw[dashflux,shorten <=20pt] (fpp.255) .. controls (1080,980) and (1082,985) .. (bcar.66);
  \draw[dashflux,shorten >=4pt] (fppout) .. controls (985,1010) and (905,1010) .. (arte.71);
  % shikimate branch
  \draw[dashflux,shorten >=9pt] (dahpout) -- (chor.168);
  \draw[dashflux] (chor.149) .. controls (980,622) and (960,615) .. (apa.-77);
  \draw[dashflux] (chorfork) .. controls (1020,520) and (950,520) .. (hppin);
  \draw[dashflux] (chorfork) .. controls (1025,560) and (990,520) .. (ppyin);
  \draw[dashflux] (ppy.63) .. controls (1060,345) and (1080,340) .. (pglx.249);
  \draw[flux] (ppy.-80) .. controls (1038,468) and (1050,478) .. (phe.173);
  \draw[flux] (hpp.117) .. controls (848,320) and (865,295) .. (tyr.193);
  \draw[flux,shorten <=4pt] (chor.198) .. controls (970,675) and (950,690) .. (anth.62);
  \draw[fluxline] (pepright) .. controls (660,592) and (690,600) .. (pepjoin);
  \draw[flux] (e4pout) -- (713,625) .. controls (713,648) and (725,655) .. (dahpin);
\end{tikzpicture}
\end{document}
